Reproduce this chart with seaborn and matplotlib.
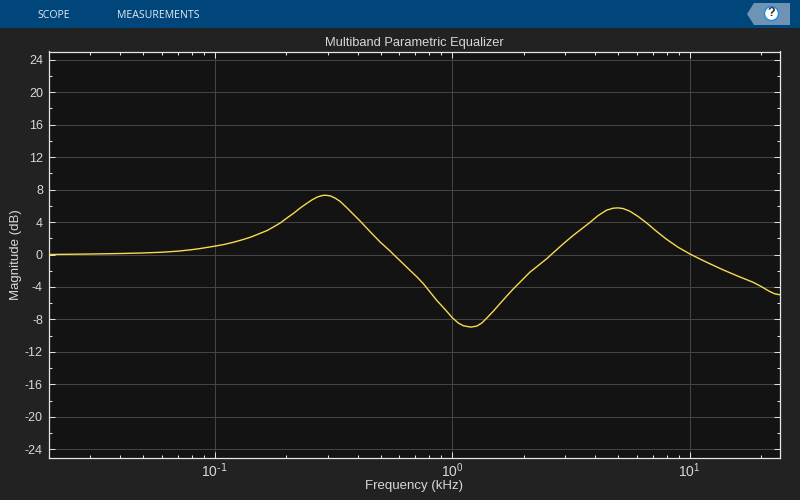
import matplotlib
matplotlib.use('Agg')
import matplotlib.pyplot as plt
import matplotlib.ticker as mticker
from matplotlib.patches import Rectangle, Polygon, Circle
import numpy as np
import pandas as pd
import seaborn as sns

# values
freq_khz = [0.02, 0.03, 0.04, 0.05, 0.06, 0.07, 0.08, 0.0873, 0.1003, 0.1095,
            0.1205, 0.1307, 0.1417, 0.1535, 0.1664, 0.1775, 0.1894, 0.202, 0.2154, 0.2297,
            0.2451, 0.2572, 0.27, 0.2834, 0.2927, 0.3073, 0.3225, 0.3384, 0.3609, 0.3849,
            0.4106, 0.4522, 0.4983, 0.5489, 0.5669, 0.6145, 0.666, 0.7104, 0.7577, 0.8084,
            0.8621, 0.9345, 1.003, 1.063, 1.116, 1.198, 1.269, 1.332, 1.398, 1.492,
            1.643, 1.81, 1.962, 2.127, 2.306, 2.499, 2.75, 2.98, 3.23, 3.51,
            3.8, 4.12, 4.47, 4.76, 5.0, 5.25, 5.6, 6.07, 6.58, 7.24,
            7.98, 8.93, 10.0, 11.0, 12.1, 13.8, 15.7, 18.45, 20.0, 21.7,
            22.8, 24.0]
magnitude_db = [0.0, 0.06, 0.12, 0.19, 0.28, 0.41, 0.59, 0.74, 1.03, 1.23,
                1.52, 1.81, 2.13, 2.54, 2.95, 3.41, 3.9, 4.51, 5.09, 5.74,
                6.32, 6.73, 7.06, 7.26, 7.3, 7.22, 6.93, 6.52, 5.74, 4.92,
                4.1, 2.79, 1.52, 0.41, 0.0, -0.98, -1.97, -2.75, -3.61, -4.64,
                -5.66, -6.77, -7.8, -8.45, -8.78, -8.94, -8.82, -8.45, -7.84, -6.97,
                -5.58, -4.23, -3.2, -2.17, -1.35, -0.53, 0.57, 1.48, 2.34, 3.16,
                3.94, 4.8, 5.46, 5.7, 5.74, 5.66, 5.33, 4.68, 3.9, 2.87,
                1.89, 0.9, 0.08, -0.53, -1.11, -1.88, -2.58, -3.41, -3.94, -4.55,
                -4.84, -4.96]
y_ticks = list(range(-24, 25, 4))
y_minor = list(range(-22, 25, 4))
menu_labels = ['SCOPE', 'MEASUREMENTS']

bg = '#222222'
text_col = '#d8d8d8'
W, H = 800, 500

sns.set_style('dark')
plt.rcParams['font.family'] = ['Liberation Sans', 'DejaVu Sans']
plt.rcParams['mathtext.default'] = 'regular'
plt.rcParams['axes.unicode_minus'] = False

def log_label(v, pos):
    exp = round(np.log10(v))
    if exp < 0:
        return '$10^{\\text{-%d}}$' % abs(exp)
    return '$10^{%d}$' % exp

fig = plt.figure(figsize=(8, 5), dpi=100, facecolor=bg)
ax = fig.add_axes([48.5 / W, 1 - 457.5 / H, (780 - 48.5) / W, (457.5 - 51.5) / H])
ax.set_facecolor('#131313')

df = pd.DataFrame({'freq': freq_khz, 'mag': magnitude_db})
sns.lineplot(data=df, x='freq', y='mag', color='#f7dc50', linewidth=1.0, ax=ax, zorder=3)

ax.set_xscale('log')
ax.set_xlim(0.02, 24)
ax.set_ylim(-25, 25)
ax.xaxis.set_major_locator(mticker.LogLocator(base=10, numticks=10))
ax.xaxis.set_major_formatter(mticker.FuncFormatter(log_label))
ax.xaxis.set_minor_locator(mticker.LogLocator(base=10, subs=range(2, 10), numticks=10))
ax.xaxis.set_minor_formatter(mticker.NullFormatter())
ax.set_yticks(y_ticks)
ax.set_yticks(y_minor, minor=True)

ax.grid(True, which='major', color='#444444', linewidth=0.75)
ax.grid(False, which='minor')
ax.set_axisbelow(True)
ax.tick_params(which='major', direction='in', length=4.5, width=0.75, color='#e0e0e0',
               labelcolor=text_col, labelsize=9, top=True, right=True, bottom=True, left=True, pad=4)
ax.tick_params(which='minor', direction='in', length=2.5, width=0.75, color='#e0e0e0',
               top=True, right=True, bottom=True, left=True)
ax.tick_params(axis='x', which='major', labelsize=10, pad=3)
for s in ax.spines.values():
    s.set_visible(True)
    s.set_color('#e6e6e6')
    s.set_linewidth(0.9)

ax.set_xlabel('Frequency (kHz)', color=text_col, fontsize=9.5, labelpad=0)
ax.set_ylabel('Magnitude (dB)', color=text_col, fontsize=9.5, labelpad=2)
ax.set_title('Multiband Parametric Equalizer', color=text_col, fontsize=9.3, pad=4)

# toolbar strip, drawn in figure pixels
def px(x, y):
    return x / W, 1 - y / H

fig.add_artist(Rectangle(px(0, 27.5), 1, 27.5 / H, transform=fig.transFigure, facecolor='#00467a', edgecolor='none'))
fig.text(*px(37, 15), menu_labels[0], color='#e4ecf3', fontsize=7.6, family='Open Sans', va='center')
fig.text(*px(117, 15), menu_labels[1], color='#e4ecf3', fontsize=7.6, family='Open Sans', va='center')
fig.add_artist(Polygon([px(747, 14), px(754, 3), px(790, 3), px(790, 25), px(754, 25)], closed=True,
                       transform=fig.transFigure, facecolor='#6f93b4', edgecolor='none'))
help_btn = Circle((771.5, H - 13.5), 7, transform=None, facecolor='white', edgecolor='#1c8be8', linewidth=1)
fig.add_artist(help_btn)
fig.text(*px(771.5, 13.5), '?', color='#333333', fontsize=9, fontweight='bold', ha='center', va='center')

fig.savefig('out.png', dpi=100, facecolor=bg)
